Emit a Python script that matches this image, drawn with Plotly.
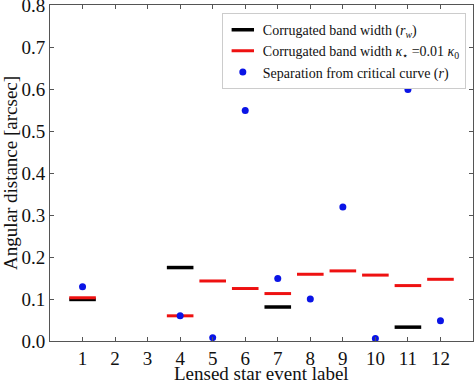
import plotly.graph_objects as go

labels = [1, 2, 3, 4, 5, 6, 7, 8, 9, 10, 11, 12]

rw_x = [1, 4, 7, 11]
rw_y = [0.099, 0.175, 0.081, 0.033]

kappa_x = [1, 4, 5, 6, 7, 8, 9, 10, 11, 12]
kappa_y = [0.103, 0.060, 0.143, 0.125, 0.113, 0.159, 0.167, 0.157, 0.132, 0.147]

sep_x = [1, 4, 5, 6, 7, 8, 9, 10, 11, 12]
sep_y = [0.129, 0.060, 0.008, 0.549, 0.149, 0.100, 0.319, 0.006, 0.599, 0.048]

yticks = [0.0, 0.1, 0.2, 0.3, 0.4, 0.5, 0.6, 0.7, 0.8]

FONT = "Liberation Serif, Times New Roman, serif"

fig = go.Figure()
fig.add_trace(go.Scatter(
    x=rw_x, y=rw_y, mode="markers",
    name="Corrugated band width (<i>r<sub>w</sub></i>)",
    marker=dict(symbol="line-ew", size=19, line=dict(color="black", width=3.5)),
))
fig.add_trace(go.Scatter(
    x=kappa_x, y=kappa_y, mode="markers",
    name="Corrugated band width <i>κ</i><sub>⋆</sub> =0.01 <i>κ</i><sub>0</sub>",
    marker=dict(symbol="line-ew", size=19, line=dict(color="#ee1111", width=3)),
))
fig.add_trace(go.Scatter(
    x=sep_x, y=sep_y, mode="markers",
    name="Separation from critical curve (<i>r</i>)",
    marker=dict(symbol="circle", size=7, color="#0a14e6"),
))

axis_common = dict(
    showline=True, linecolor="#555", linewidth=1, mirror="allticks",
    ticks="inside", ticklen=4, tickcolor="#555", showgrid=False, zeroline=False,
    tickfont=dict(family=FONT, size=19, color="#111"),
    automargin=False, ticklabeloverflow="allow",
)

fig.update_xaxes(
    range=[0, 13], tickmode="array", tickvals=labels, ticktext=[str(v) for v in labels],
    **axis_common,
)
fig.update_yaxes(
    range=[0, 0.8005], tickmode="array", tickvals=yticks, ticktext=[f"{v:.1f}" for v in yticks],
    title=dict(text="Angular distance [arcsec]", font=dict(family=FONT, size=19, color="#111"), standoff=0),
    **axis_common,
)

fig.add_annotation(
    text="Lensed star event label", xref="paper", yref="paper",
    x=0.5, y=-0.098, xanchor="center", yanchor="middle", showarrow=False,
    font=dict(family=FONT, size=19, color="#111"),
)

fig.update_layout(
    width=474, height=381,
    margin=dict(l=50, r=1, t=5, b=40),
    paper_bgcolor="white", plot_bgcolor="white",
    showlegend=True,
    legend=dict(
        x=0.983, y=0.976, xanchor="right", yanchor="top",
        bgcolor="white", bordercolor="#ccc", borderwidth=1,
        font=dict(family=FONT, size=14, color="#111"),
        tracegroupgap=0,
    ),
)

fig.write_html(
    "out.html",
    config={"displayModeBar": False},
    post_script="document.body.style.margin='0';document.body.style.overflow='hidden';",
)
